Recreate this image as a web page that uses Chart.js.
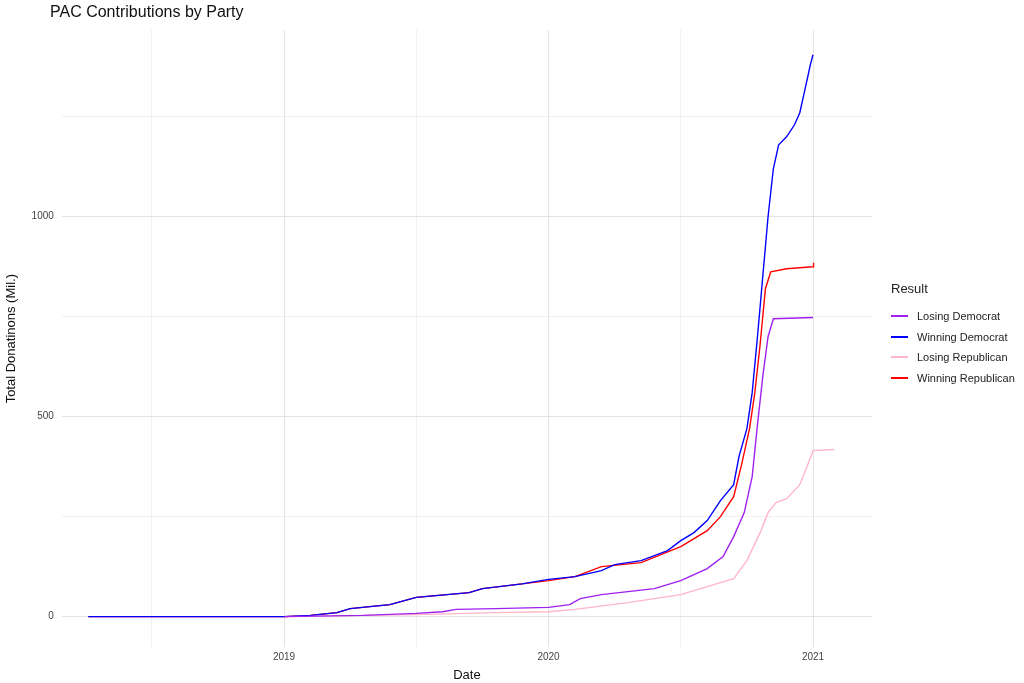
<!DOCTYPE html>
<html>
<head>
<meta charset="utf-8">
<script src="https://cdn.jsdelivr.net/npm/chart.js@4/dist/chart.umd.min.js"></script>
<style>
  html, body { margin: 0; background: #fff; font-family: "Liberation Sans", Arial, sans-serif; }
  #wrap { position: relative; width: 1024px; height: 683px; }
  #title { position: absolute; left: 50px; top: 3px; font-size: 16px; color: #111; }
  #legend { position: absolute; left: 891px; top: 281px; font-size: 11px; color: #222; }
  #legend .t { font-size: 13px; margin-bottom: 10px; }
  #legend .row { display: flex; align-items: center; height: 20.5px; }
  #legend .sw { width: 17px; height: 2px; margin-right: 9px; }
</style>
</head>
<body>
<div id="wrap">
  <canvas id="c" width="1024" height="683"></canvas>
  <div id="title">PAC Contributions by Party</div>
  <div id="legend"><div class="t">Result</div></div>
</div>
<script>
// Decimal-year dates and cumulative totals (millions)
const seriesNames = ['Losing Democrat', 'Winning Democrat', 'Losing Republican', 'Winning Republican'];
const seriesColors = ['#a020f0', '#0000ff', '#ffb6c8', '#ff0000'];

const winDemX = [2018.26, 2019.0, 2019.1, 2019.2, 2019.25, 2019.4, 2019.5, 2019.7, 2019.75, 2019.9, 2020.0, 2020.1, 2020.2, 2020.25, 2020.35, 2020.45, 2020.5, 2020.55, 2020.6, 2020.65, 2020.7, 2020.72, 2020.75, 2020.77, 2020.79, 2020.81, 2020.83, 2020.85, 2020.87, 2020.9, 2020.93, 2020.95, 2020.97, 2020.99, 2021.0];
const winDemY = [0, 0, 3, 10, 20, 30, 48, 60, 70, 82, 93, 100, 115, 130, 140, 165, 190, 210, 240, 290, 330, 400, 470, 560, 700, 850, 1000, 1120, 1180, 1200, 1230, 1260, 1320, 1380, 1405];

const winRepX = [2018.26, 2019.0, 2019.1, 2019.2, 2019.25, 2019.4, 2019.5, 2019.7, 2019.75, 2019.9, 2020.0, 2020.1, 2020.2, 2020.35, 2020.5, 2020.6, 2020.65, 2020.7, 2020.73, 2020.76, 2020.78, 2020.8, 2020.82, 2020.84, 2020.9, 2021.0, 2021.002];
const winRepY = [0, 0, 3, 10, 20, 30, 48, 60, 70, 82, 90, 100, 125, 135, 175, 215, 250, 300, 380, 470, 560, 680, 820, 862, 870, 875, 885];

const loseDemX = [2019.0, 2019.3, 2019.5, 2019.6, 2019.65, 2019.8, 2020.0, 2020.08, 2020.12, 2020.2, 2020.4, 2020.5, 2020.6, 2020.66, 2020.7, 2020.74, 2020.77, 2020.79, 2020.81, 2020.83, 2020.85, 2021.0];
const loseDemY = [0, 3, 8, 12, 18, 20, 23, 30, 45, 55, 70, 90, 120, 150, 200, 260, 350, 480, 600, 700, 745, 748];

const loseRepX = [2019.0, 2019.5, 2019.8, 2020.0, 2020.1, 2020.3, 2020.5, 2020.6, 2020.7, 2020.75, 2020.8, 2020.83, 2020.86, 2020.9, 2020.95, 2020.98, 2021.0, 2021.08];
const loseRepY = [0, 5, 10, 12, 18, 35, 55, 75, 95, 140, 210, 260, 285, 295, 330, 380, 415, 418];

const xTicks = [2019, 2020, 2021];
const yTicks = [0, 500, 1000];

const pts = (xs, ys) => xs.map((x, i) => ({ x, y: ys[i] }));
const seriesData = [pts(loseDemX, loseDemY), pts(winDemX, winDemY), pts(loseRepX, loseRepY), pts(winRepX, winRepY)];

const legend = document.getElementById('legend');
seriesNames.forEach((n, i) => {
  const r = document.createElement('div');
  r.className = 'row';
  r.innerHTML = `<span class="sw" style="background:${seriesColors[i]}"></span>${n}`;
  legend.appendChild(r);
});

const font = { family: "'Liberation Sans', Arial, sans-serif" };

new Chart(document.getElementById('c'), {
  type: 'line',
  data: {
    datasets: seriesData.map((d, i) => ({
      label: seriesNames[i], data: d, borderColor: seriesColors[i],
      borderWidth: 1.4, pointRadius: 0, tension: 0, fill: false
    }))
  },
  options: {
    responsive: false, animation: false,
    layout: { padding: { left: 0, right: 152, top: 30, bottom: 0 } },
    plugins: { legend: { display: false }, tooltip: { enabled: false } },
    scales: {
      x: {
        type: 'linear', min: 2018.16, max: 2021.223,
        afterBuildTicks: a => { a.ticks = [2018.5, 2019, 2019.5, 2020, 2020.5, 2021].map(v => ({ value: v })); },
        grid: { color: c => Number.isInteger(c.tick.value) ? '#e4e4e4' : '#f0f0f0', drawTicks: false },
        border: { display: false },
        ticks: { color: '#444', font: { ...font, size: 10 }, padding: 4,
          callback: v => xTicks.includes(v) ? String(v) : '' },
        title: { display: true, text: 'Date', color: '#111', font: { ...font, size: 13 }, padding: { top: 0, bottom: 0 } }
      },
      y: {
        min: -77, max: 1467,
        afterBuildTicks: a => { a.ticks = [0, 250, 500, 750, 1000, 1250].map(v => ({ value: v })); },
        grid: { color: c => yTicks.includes(c.tick.value) ? '#e4e4e4' : '#f0f0f0', drawTicks: false },
        border: { display: false },
        ticks: { color: '#444', font: { ...font, size: 10 }, padding: 8,
          callback: v => yTicks.includes(v) ? String(v) : '' },
        title: { display: true, text: 'Total Donatinons (Mil.)', color: '#111', font: { ...font, size: 13 } }
      }
    }
  }
});
</script>
</body>
</html>
